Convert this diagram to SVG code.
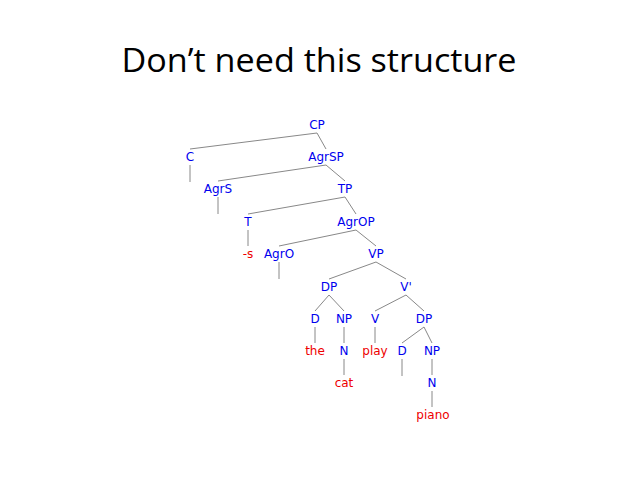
<svg xmlns="http://www.w3.org/2000/svg" width="638" height="478" viewBox="0 0 638 478">
<style>
.n{font-family:"DejaVu Sans",sans-serif;font-size:12px;fill:#0000ee;text-anchor:middle;dominant-baseline:central}
.w{fill:#ee0000}
.e line{stroke:#888;stroke-width:1}
.t{font-family:"Open Sans","Liberation Sans",sans-serif;font-size:32px;fill:#000;text-anchor:middle}
</style>
<rect width="638" height="478" fill="#fff"/>
<text class="t" x="319" y="72" textLength="395" lengthAdjust="spacingAndGlyphs">Don’t need this structure</text>
<g id="connectors" class="e">
<line x1="317" y1="133" x2="190" y2="149"/><line x1="317" y1="133" x2="326" y2="149"/>
<line x1="190" y1="165" x2="190" y2="182"/>
<line x1="326" y1="165" x2="218" y2="181"/><line x1="326" y1="165" x2="345" y2="181"/>
<line x1="218" y1="197" x2="218" y2="214"/>
<line x1="345" y1="197" x2="248" y2="214"/><line x1="345" y1="197" x2="356" y2="214"/>
<line x1="248" y1="230" x2="248" y2="246"/>
<line x1="356" y1="230" x2="279" y2="246"/><line x1="356" y1="230" x2="376" y2="246"/>
<line x1="279" y1="262" x2="279" y2="279"/>
<line x1="376" y1="262" x2="329" y2="279"/><line x1="376" y1="262" x2="406" y2="279"/>
<line x1="329" y1="295" x2="315" y2="311"/><line x1="329" y1="295" x2="344" y2="311"/>
<line x1="406" y1="295" x2="375" y2="311"/><line x1="406" y1="295" x2="424" y2="311"/>
<line x1="315" y1="327" x2="315" y2="343"/>
<line x1="344" y1="327" x2="344" y2="343"/>
<line x1="375" y1="327" x2="375" y2="343"/>
<line x1="424" y1="327" x2="402" y2="343"/><line x1="424" y1="327" x2="432" y2="343"/>
<line x1="344" y1="359" x2="344" y2="375"/>
<line x1="402" y1="359" x2="402" y2="376"/>
<line x1="432" y1="359" x2="432" y2="375"/>
<line x1="432" y1="391" x2="432" y2="407"/>
</g>
<g id="CP"><text class="n" x="317" y="125">CP</text></g>
<g id="C"><text class="n" x="190" y="157">C</text></g>
<g id="AgrSP"><text class="n" x="326" y="157">AgrSP</text></g>
<g id="AgrS"><text class="n" x="218" y="189">AgrS</text></g>
<g id="TP"><text class="n" x="345" y="189">TP</text></g>
<g id="T"><text class="n" x="248" y="222">T</text></g>
<g id="AgrOP"><text class="n" x="356" y="222">AgrOP</text></g>
<g id="s"><text class="n w" x="248" y="254">-s</text></g>
<g id="AgrO"><text class="n" x="279" y="254">AgrO</text></g>
<g id="VP"><text class="n" x="376" y="254">VP</text></g>
<g id="DP1"><text class="n" x="329" y="287">DP</text></g>
<g id="Vbar"><text class="n" x="406" y="287">V'</text></g>
<g id="D1"><text class="n" x="315" y="319">D</text></g>
<g id="NP1"><text class="n" x="344" y="319">NP</text></g>
<g id="V"><text class="n" x="375" y="319">V</text></g>
<g id="DP2"><text class="n" x="424" y="319">DP</text></g>
<g id="the"><text class="n w" x="315" y="351">the</text></g>
<g id="N1"><text class="n" x="344" y="351">N</text></g>
<g id="play"><text class="n w" x="375" y="351">play</text></g>
<g id="D2"><text class="n" x="402" y="351">D</text></g>
<g id="NP2"><text class="n" x="432" y="351">NP</text></g>
<g id="cat"><text class="n w" x="344" y="383">cat</text></g>
<g id="N2"><text class="n" x="432" y="383">N</text></g>
<g id="piano"><text class="n w" x="433" y="415">piano</text></g>
</svg>
